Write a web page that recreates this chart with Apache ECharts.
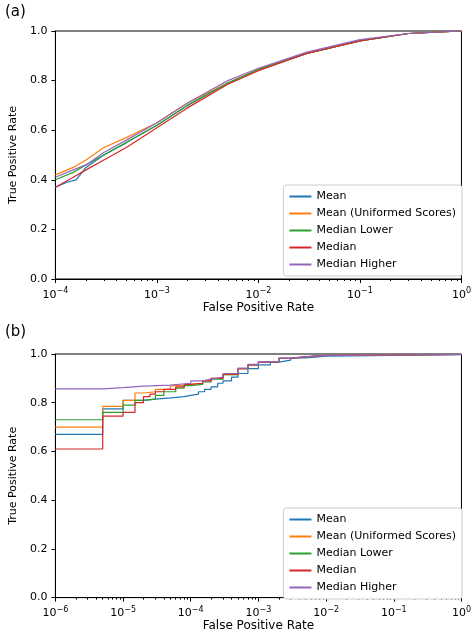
<!DOCTYPE html><html><head><meta charset="utf-8">
<script src="https://cdn.jsdelivr.net/npm/echarts@6/dist/echarts.min.js"></script>
<style>html,body{margin:0;background:#fff}#c{width:474px;height:633px}</style></head><body><div id="c"></div>
<script>
const names=['Mean','Mean (Uniformed Scores)','Median Lower','Median','Median Higher'];
const colors=['#1f77b4','#ff7f0e','#2ca02c','#d62728','#9467bd'];
const yTicks=[0,0.2,0.4,0.6,0.8,1.0];
// panel (a): [FPR, TPR]
const aMean=[[1e-4,0.37],[1.3e-4,0.39],[1.6e-4,0.40],[2e-4,0.45],[3e-4,0.50],[5e-4,0.55],[1e-3,0.62],[2e-3,0.70],[5e-3,0.79],[1e-2,0.845],[3e-2,0.91],[0.1,0.96],[0.3,0.99],[1,1]];
const aUni=[[1e-4,0.42],[1.5e-4,0.45],[2e-4,0.48],[3e-4,0.53],[5e-4,0.57],[1e-3,0.63],[2e-3,0.71],[5e-3,0.79],[1e-2,0.845],[3e-2,0.91],[0.1,0.96],[0.3,0.99],[1,1]];
const aLow=[[1e-4,0.40],[1.5e-4,0.43],[2e-4,0.46],[3e-4,0.50],[5e-4,0.55],[1e-3,0.62],[2e-3,0.70],[5e-3,0.79],[1e-2,0.845],[3e-2,0.91],[0.1,0.96],[0.3,0.99],[1,1]];
const aMed=[[1e-4,0.37],[1.5e-4,0.41],[2e-4,0.44],[3e-4,0.48],[5e-4,0.53],[1e-3,0.61],[2e-3,0.69],[5e-3,0.785],[1e-2,0.84],[3e-2,0.91],[0.1,0.96],[0.3,0.99],[1,1]];
const aHigh=[[1e-4,0.41],[1.5e-4,0.44],[2e-4,0.46],[3e-4,0.51],[5e-4,0.56],[1e-3,0.63],[2e-3,0.71],[5e-3,0.80],[1e-2,0.85],[3e-2,0.915],[0.1,0.965],[0.3,0.99],[1,1]];
// panel (b)
const bMean=[[1e-6,0.67],[5e-6,0.775],[1e-5,0.81],[2e-5,0.815],[3e-5,0.82],[5e-5,0.825],[8e-5,0.83],[1e-4,0.835],[1.3e-4,0.845],[1.6e-4,0.855],[2e-4,0.865],[2.5e-4,0.88],[3e-4,0.89],[4e-4,0.905],[5e-4,0.92],[7e-4,0.94],[1e-3,0.955],[1.5e-3,0.967],[2e-3,0.975],[3e-3,0.984],[5e-3,0.991],[1e-2,0.997],[1,1]];
const bUni=[[1e-6,0.70],[5e-6,0.785],[1e-5,0.81],[1.5e-5,0.84],[2e-5,0.845],[3e-5,0.855],[5e-5,0.87],[7e-5,0.875],[1e-4,0.88],[1.5e-4,0.89],[2e-4,0.90],[3e-4,0.915],[5e-4,0.94],[7e-4,0.955],[1e-3,0.967],[2e-3,0.982],[3e-3,0.988],[5e-3,0.994],[1e-2,0.998],[1,1]];
const bLow=[[1e-6,0.73],[5e-6,0.76],[1e-5,0.79],[1.5e-5,0.81],[2e-5,0.815],[3e-5,0.83],[4e-5,0.845],[6e-5,0.86],[8e-5,0.87],[1e-4,0.875],[1.5e-4,0.885],[2e-4,0.897],[3e-4,0.915],[5e-4,0.94],[7e-4,0.955],[1e-3,0.966],[2e-3,0.982],[3e-3,0.988],[5e-3,0.994],[1e-2,0.998],[1,1]];
const bMed=[[1e-6,0.61],[5e-6,0.745],[1e-5,0.76],[1.5e-5,0.80],[2e-5,0.825],[2.5e-5,0.835],[3e-5,0.845],[4e-5,0.855],[6e-5,0.865],[8e-5,0.875],[1e-4,0.88],[1.5e-4,0.89],[2e-4,0.90],[3e-4,0.917],[5e-4,0.94],[7e-4,0.955],[1e-3,0.967],[2e-3,0.982],[3e-3,0.988],[5e-3,0.994],[1e-2,0.998],[1,1]];
const bHigh=[[1e-6,0.857],[5e-6,0.862],[1e-5,0.868],[2e-5,0.872],[5e-5,0.88],[1e-4,0.89],[1.5e-4,0.897],[2e-4,0.905],[3e-4,0.92],[5e-4,0.942],[7e-4,0.957],[1e-3,0.968],[2e-3,0.983],[3e-3,0.989],[5e-3,0.994],[1e-2,0.998],[1,1]];
const dataA=[aMean,aUni,aLow,aMed,aHigh];
const dataB=[bMean,bUni,bLow,bMed,bHigh];
const ff='DejaVu Sans';
function xAx(i,min){return {type:'log',logBase:10,gridIndex:i,min:min,max:1,name:'False Positive Rate',nameLocation:'middle',nameGap:22,
 nameTextStyle:{fontFamily:ff,fontSize:12,color:'#000'},
 axisLine:{lineStyle:{color:'#000'}},axisTick:{inside:false,length:4,lineStyle:{color:'#000'}},
 minorTick:{show:true,splitNumber:9,length:2,lineStyle:{color:'#000'}},splitLine:{show:false},
 axisLabel:{fontFamily:ff,fontSize:11,color:'#000',formatter:v=>{const e=Math.round(Math.log10(v));return '10{s|'+(e<0?'−'+(-e):e)+'}';},rich:{s:{fontSize:8,verticalAlign:'top',padding:[0,0,8,0],fontFamily:ff,color:'#000'}}}};}
function yAx(i){return {type:'value',gridIndex:i,min:0,max:1,interval:0.2,name:'True Positive Rate',nameLocation:'middle',nameGap:30,
 nameTextStyle:{fontFamily:ff,fontSize:11,color:'#000'},axisLine:{show:true,lineStyle:{color:'#000'}},axisTick:{show:true,length:4,lineStyle:{color:'#000'}},splitLine:{show:false},
 axisLabel:{fontFamily:ff,fontSize:11,color:'#000',formatter:v=>v.toFixed(1)}};}
const series=[];
names.forEach((n,k)=>{
 series.push({name:n,type:'line',xAxisIndex:0,yAxisIndex:0,data:dataA[k],showSymbol:false,lineStyle:{width:1.2,color:colors[k]},itemStyle:{color:colors[k]}});
 series.push({name:n,type:'line',xAxisIndex:1,yAxisIndex:1,data:dataB[k],step:'end',showSymbol:false,lineStyle:{width:1.2,color:colors[k]},itemStyle:{color:colors[k]}});
});
const leg=(top)=>({data:names,orient:'vertical',right:12,top:top,itemWidth:22,itemHeight:2,itemGap:6,icon:'rect',
 backgroundColor:'#fff',borderColor:'#ccc',borderWidth:1,borderRadius:3,padding:[6,6,6,6],textStyle:{fontFamily:ff,fontSize:11,color:'#000'}});
const chart=echarts.init(document.getElementById('c'),null,{renderer:'canvas'});
chart.setOption({animation:false,
 title:[{text:'(a)',left:0,top:0,textStyle:{fontFamily:ff,fontSize:15,fontWeight:'normal',color:'#000'}},
        {text:'(b)',left:0,top:320,textStyle:{fontFamily:ff,fontSize:15,fontWeight:'normal',color:'#000'}}],
 grid:[{left:45,right:10,top:31,height:248,show:true,borderColor:'#000',borderWidth:1},{left:45,right:10,top:354,height:250,show:true,borderColor:'#000',borderWidth:1}],
 xAxis:[xAx(0,1e-4),xAx(1,1e-6)],yAxis:[yAx(0),yAx(1)],
 legend:[leg(185),leg(508)],series:series});
</script></body></html>
